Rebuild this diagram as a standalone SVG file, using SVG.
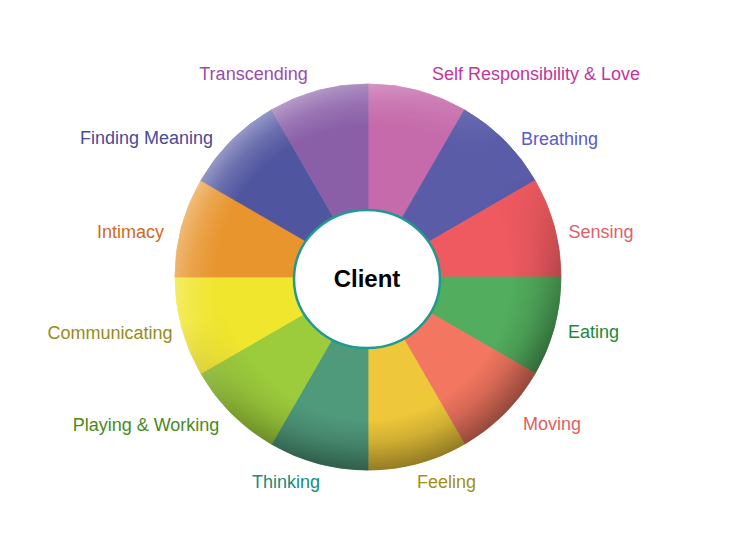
<svg xmlns="http://www.w3.org/2000/svg" width="730" height="549" viewBox="0 0 730 549">
<defs>
<style>
.lbl{font-family:"Liberation Sans",Arial,sans-serif;font-size:18px;text-anchor:middle}
.seg{stroke-width:0.8}
</style>
<radialGradient id="darkRim" cx="368" cy="277" r="193" gradientUnits="userSpaceOnUse">
<stop offset="0" stop-color="#000" stop-opacity="0"/>
<stop offset="0.74" stop-color="#000" stop-opacity="0"/>
<stop offset="0.86" stop-color="#000" stop-opacity="0.13"/>
<stop offset="1" stop-color="#000" stop-opacity="0.38"/>
</radialGradient>
<radialGradient id="lightRim" cx="368" cy="277" r="193" gradientUnits="userSpaceOnUse">
<stop offset="0" stop-color="#fff" stop-opacity="0"/>
<stop offset="0.78" stop-color="#fff" stop-opacity="0"/>
<stop offset="0.9" stop-color="#fff" stop-opacity="0.2"/>
<stop offset="1" stop-color="#fff" stop-opacity="0.45"/>
</radialGradient>
<linearGradient id="lgDark" x1="300" y1="140" x2="440" y2="460" gradientUnits="userSpaceOnUse">
<stop offset="0.35" stop-color="#000"/>
<stop offset="0.85" stop-color="#fff"/>
</linearGradient>
<linearGradient id="lgLight" x1="175" y1="84" x2="561" y2="470" gradientUnits="userSpaceOnUse">
<stop offset="0.1" stop-color="#fff"/>
<stop offset="0.5" stop-color="#000"/>
</linearGradient>
<mask id="mDark" maskUnits="userSpaceOnUse" x="0" y="0" width="730" height="549"><rect x="0" y="0" width="730" height="549" fill="url(#lgDark)"/></mask>
<mask id="mLight" maskUnits="userSpaceOnUse" x="0" y="0" width="730" height="549"><rect x="0" y="0" width="730" height="549" fill="url(#lgLight)"/></mask>
</defs>
<rect width="730" height="549" fill="#fff"/>
<g id="wheel">
<g id="seg-self"><path class="seg" d="M368,277 L368,84 A193,193 0 0 1 464.5,109.86 Z" fill="#c56aab" stroke="#c56aab"/></g>
<g id="seg-breathing"><path class="seg" d="M368,277 L464.5,109.86 A193,193 0 0 1 535.14,180.5 Z" fill="#5a5ca8" stroke="#5a5ca8"/></g>
<g id="seg-sensing"><path class="seg" d="M368,277 L535.14,180.5 A193,193 0 0 1 561,277 Z" fill="#ee5a60" stroke="#ee5a60"/></g>
<g id="seg-eating"><path class="seg" d="M368,277 L561,277 A193,193 0 0 1 535.14,373.5 Z" fill="#52ae5e" stroke="#52ae5e"/></g>
<g id="seg-moving"><path class="seg" d="M368,277 L535.14,373.5 A193,193 0 0 1 464.5,444.14 Z" fill="#f27660" stroke="#f27660"/></g>
<g id="seg-feeling"><path class="seg" d="M368,277 L464.5,444.14 A193,193 0 0 1 368,470 Z" fill="#eec83a" stroke="#eec83a"/></g>
<g id="seg-thinking"><path class="seg" d="M368,277 L368,470 A193,193 0 0 1 271.5,444.14 Z" fill="#509a7c" stroke="#509a7c"/></g>
<g id="seg-playing"><path class="seg" d="M368,277 L271.5,444.14 A193,193 0 0 1 200.86,373.5 Z" fill="#9ccb3c" stroke="#9ccb3c"/></g>
<g id="seg-communicating"><path class="seg" d="M368,277 L200.86,373.5 A193,193 0 0 1 175,277 Z" fill="#f0e62e" stroke="#f0e62e"/></g>
<g id="seg-intimacy"><path class="seg" d="M368,277 L175,277 A193,193 0 0 1 200.86,180.5 Z" fill="#e8952e" stroke="#e8952e"/></g>
<g id="seg-meaning"><path class="seg" d="M368,277 L200.86,180.5 A193,193 0 0 1 271.5,109.86 Z" fill="#5055a0" stroke="#5055a0"/></g>
<g id="seg-transcending"><path class="seg" d="M368,277 L271.5,109.86 A193,193 0 0 1 368,84 Z" fill="#8a5fa8" stroke="#8a5fa8"/></g>
<circle cx="368" cy="277" r="193.4" fill="url(#darkRim)" mask="url(#mDark)"/>
<circle cx="368" cy="277" r="193.4" fill="url(#lightRim)" mask="url(#mLight)"/>
</g>
<g id="client">
<ellipse cx="367" cy="279" rx="73" ry="69" fill="#fff" stroke="#1e9a92" stroke-width="2.5"/>
<text x="367" y="287" font-family="Liberation Sans,Arial,sans-serif" font-size="24" font-weight="bold" text-anchor="middle" fill="#000">Client</text>
</g>
<g id="labels">
<text id="l-transcending" class="lbl" x="253.5" y="80" fill="#9a4cb0">Transcending</text>
<text id="l-self" class="lbl" x="536" y="80" fill="#c4359b">Self Responsibility &amp; Love</text>
<text id="l-breathing" class="lbl" x="559.5" y="145" fill="#5a5ac8">Breathing</text>
<text id="l-meaning" class="lbl" x="146.5" y="144" fill="#4a4a9a">Finding Meaning</text>
<text id="l-intimacy" class="lbl" x="130.5" y="238" fill="#d06a1a">Intimacy</text>
<text id="l-sensing" class="lbl" x="601" y="238" fill="#e0606a">Sensing</text>
<text id="l-communicating" class="lbl" x="110" y="339" fill="#9a8a1a">Communicating</text>
<text id="l-eating" class="lbl" x="593.5" y="338" fill="#1a8a3a">Eating</text>
<text id="l-playing" class="lbl" x="146" y="431" fill="#4a8a1a">Playing &amp; Working</text>
<text id="l-moving" class="lbl" x="552" y="430" fill="#e06060">Moving</text>
<text id="l-thinking" class="lbl" x="286" y="488" fill="#1a8a80">Thinking</text>
<text id="l-feeling" class="lbl" x="446.5" y="488" fill="#a0901a">Feeling</text>
</g>
</svg>
